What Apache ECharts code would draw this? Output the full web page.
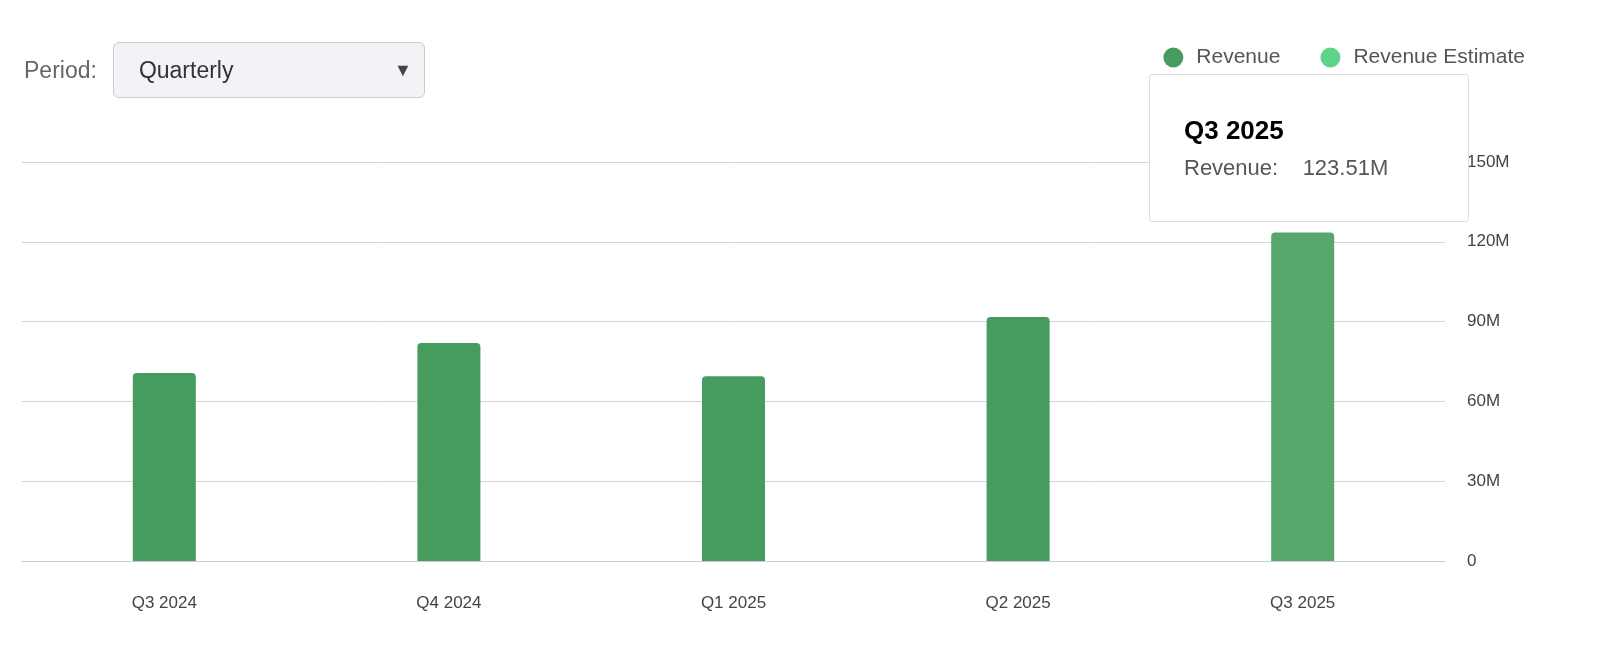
<!DOCTYPE html>
<html>
<head>
<meta charset="utf-8">
<script src="https://cdn.jsdelivr.net/npm/echarts@6/dist/echarts.min.js"></script>
<style>
  body { margin:0; background:#fff; font-family:"Helvetica Neue", "Liberation Sans", Arial, sans-serif; }
  #wrap { position:relative; width:1598px; height:654px; }
  #period { position:absolute; left:24px; top:42px; z-index:2; display:flex; align-items:center; }
  #period label { font-size:23px; color:#666; margin-right:16px; }
  #period .sel { width:312px; height:56px; box-sizing:border-box; border:1px solid #ccc; border-radius:6px;
    background:#f2f3f7; font-size:23px; color:#333; padding-left:25px; line-height:54px; position:relative; }
  #period .sel:after { content:'\25BC'; position:absolute; right:12px; top:0; font-size:18px; color:#444; }
  #chart { width:1598px; height:654px; }
</style>
</head>
<body>
<div id="wrap">
  <div id="period"><label>Period:</label><div class="sel">Quarterly</div></div>
  <div id="chart"></div>
</div>
<script>
var categories = ['Q3 2024', 'Q4 2024', 'Q1 2025', 'Q2 2025', 'Q3 2025'];
var revenue = [70.7, 82.0, 69.5, 91.7, 123.51];
var estimate = [null, null, null, null, null];

var myChart = echarts.init(document.getElementById('chart'));
var option = {
  animation: false,
  textStyle: { fontFamily: '"Helvetica Neue", "Liberation Sans", Arial, sans-serif' },
  grid: { left: 22, right: 153, top: 162, bottom: 93 },
  legend: {
    right: 68, top: 42, itemGap: 40, icon: 'circle', itemWidth: 20, itemHeight: 20,
    textStyle: { fontSize: 21, color: '#555', padding: [0, 0, 0, 8] },
    data: ['Revenue', 'Revenue Estimate']
  },
  tooltip: {
    trigger: 'item', triggerOn: 'none', alwaysShowContent: true,
    position: [1149, 74],
    backgroundColor: '#fff', borderColor: '#ddd', borderWidth: 1, padding: [40, 34, 38, 34],
    extraCssText: 'box-shadow:none;border-radius:3px;width:250px;',
    formatter: function (p) {
      return '<div style="font-size:26px;font-weight:bold;color:#000;line-height:30px;margin-bottom:8px">' + p.name + '</div>' +
        '<div style="font-size:22px;color:#555;line-height:30px">Revenue:&nbsp;&nbsp;&nbsp; ' + p.value.toFixed(2) + 'M</div>';
    }
  },
  xAxis: {
    type: 'category', data: categories,
    axisLine: { lineStyle: { color: '#ccc' } }, axisTick: { show: false },
    axisLabel: { fontSize: 17, color: '#444', margin: 34 }
  },
  yAxis: {
    type: 'value', position: 'right', min: 0, max: 150, interval: 30,
    axisLabel: { fontSize: 17, color: '#444', margin: 22, formatter: function (v) { return v === 0 ? '0' : v + 'M'; } },
    splitLine: { lineStyle: { color: '#d5d5d5' } }
  },
  series: [
    {
      name: 'Revenue', type: 'bar', barWidth: 63, barGap: '-100%',
      itemStyle: { color: '#469b5f', borderRadius: [4, 4, 0, 0] },
      data: revenue.map(function (v, i) {
        return i === revenue.length - 1 ? { value: v, itemStyle: { color: '#57a66b' } } : v;
      })
    },
    { name: 'Revenue Estimate', type: 'bar', barWidth: 63, barGap: '-100%', itemStyle: { color: '#5fd38a' }, data: estimate }
  ]
};
myChart.setOption(option);
myChart.dispatchAction({ type: 'showTip', seriesIndex: 0, dataIndex: 4 });
</script>
</body>
</html>
